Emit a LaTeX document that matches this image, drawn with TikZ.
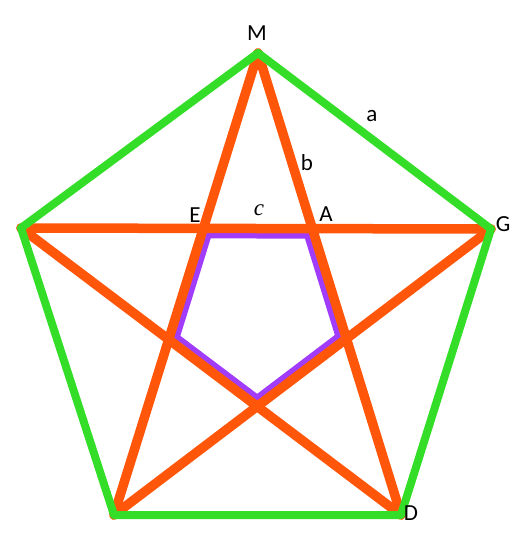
\documentclass[tikz,border=0pt]{standalone}
\usepackage{fontspec}
\setmainfont{Carlito}
\newfontfamily\cfont{Liberation Serif}
\definecolor{pgreen}{RGB}{52,222,40}
\definecolor{porange}{RGB}{255,86,10}
\definecolor{ppurple}{RGB}{160,60,250}
\tikzset{
  greenline/.style={draw=pgreen,line width=8pt,line join=round,line cap=round},
  orangeline/.style={draw=porange,line width=9.5pt,line cap=round},
  purpleline/.style={draw=ppurple,line width=20pt,line join=round},
  lbl/.style={font=\fontsize{23}{23}\selectfont,inner sep=0pt}
}
\begin{document}
\begin{tikzpicture}[x=1pt,y=-1pt]
\useasboundingbox (0,0) rectangle (531,540);
\coordinate (M) at (258,53);
\coordinate (G) at (491,229);
\coordinate (D) at (401,515);
\coordinate (BL) at (114,515);
\coordinate (L) at (21,228);
\coordinate (E) at (intersection of M--BL and L--G);
\coordinate (A) at (intersection of M--D and L--G);
\coordinate (R) at (intersection of M--D and G--BL);
\coordinate (B) at (intersection of L--D and G--BL);
\coordinate (Lf) at (intersection of M--BL and L--D);
\begin{scope}
\clip (E)--(A)--(R)--(B)--(Lf)--cycle;
\draw[purpleline] (E)--(A)--(R)--(B)--(Lf)--cycle;
\end{scope}
\draw[orangeline] (M)--(BL);
\draw[orangeline] (M)--(D);
\draw[orangeline] (L)--(G);
\draw[orangeline] (L)--(D);
\draw[orangeline] (G)--(BL);
\draw[greenline] (M)--(G)--(D)--(BL)--(L)--cycle;
\node[lbl] (lM) at (257,33) {M};
\node[lbl] (la) at (372,116) {a};
\node[lbl] (lb) at (307,163) {b};
\node[lbl,font=\fontsize{23}{23}\cfont\itshape] (lc) at (259,210) {c};
\node[lbl] (lE) at (195,215) {E};
\node[lbl] (lA) at (326,214) {A};
\node[lbl] (lG) at (503,224) {G};
\node[lbl] (lD) at (411,513) {D};
\end{tikzpicture}
\end{document}
